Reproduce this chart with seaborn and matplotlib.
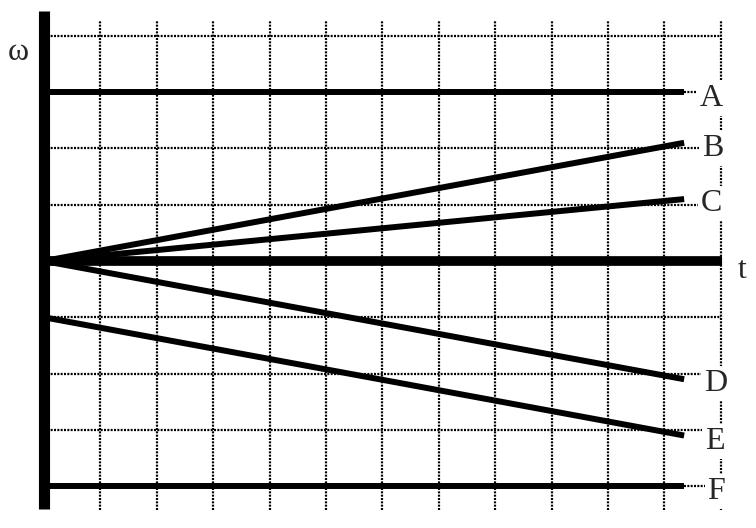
import numpy as np
import pandas as pd
import matplotlib
matplotlib.use("Agg")
import matplotlib.pyplot as plt
import seaborn as sns

# Данные
t_pts = [0, 11.35]
series = {
    'A': [3, 3],
    'B': [0, 2.1],
    'C': [0, 1.1],
    'D': [0, -2.1],
    'E': [-1, -3.1],
    'F': [-4, -4],
}
label_y = [2.88, 2.0, 1.03, -2.17, -3.21, -4.1]
label_x = [11.84, 11.86, 11.84, 11.9, 11.9, 11.92]

sns.set_style("white")
plt.rcParams['font.family'] = ['Liberation Serif', 'DejaVu Serif']

fig = plt.figure(figsize=(7.56, 5.28), dpi=100)
ax = fig.add_axes([0, 0, 1, 1])
ax.set_xlim(-44 / 56.4, 712 / 56.4)
ax.set_ylim((261 - 528) / 56.3, 261 / 56.3)
ax.axis('off')

# сетка
dot = (0, (0.9, 0.6))
for gx in range(1, 13):
    ax.plot([gx, gx], [-4.42, 4.26], color='black', lw=1.6, ls=dot, zorder=1)
for gy in [4, 3, 2, 1, -1, -2, -3, -4]:
    ax.plot([0, 12], [gy, gy], color='black', lw=1.6, ls=dot, zorder=1)

# оси
ax.plot([0, 0], [-4.40, 4.44], color='black', lw=8, solid_capstyle='butt', zorder=4)
ax.plot([-0.07, 12.02], [0, 0], color='black', lw=7, solid_capstyle='butt', zorder=4)

df = pd.DataFrame([(name, t, w) for name, vals in series.items()
                   for t, w in zip(t_pts, vals)], columns=['name', 't', 'w'])
sns.lineplot(data=df, x='t', y='w', units='name', estimator=None,
             color='black', lw=4.3, ax=ax, zorder=3)
for line in ax.lines[-len(series):]:
    line.set_solid_capstyle('butt')

for name, lx, ly in zip(series.keys(), label_x, label_y):
    ax.text(lx, ly, name, fontsize=23, ha='center', va='center', zorder=5,
            bbox=dict(facecolor='white', edgecolor='none', pad=2))

ax.text(12.38, -0.16, 't', fontsize=23, ha='center', va='center')
ax.text(-0.46, 3.71, 'ω', fontsize=23, ha='center', va='center')

fig.savefig('out.png', dpi=100)
